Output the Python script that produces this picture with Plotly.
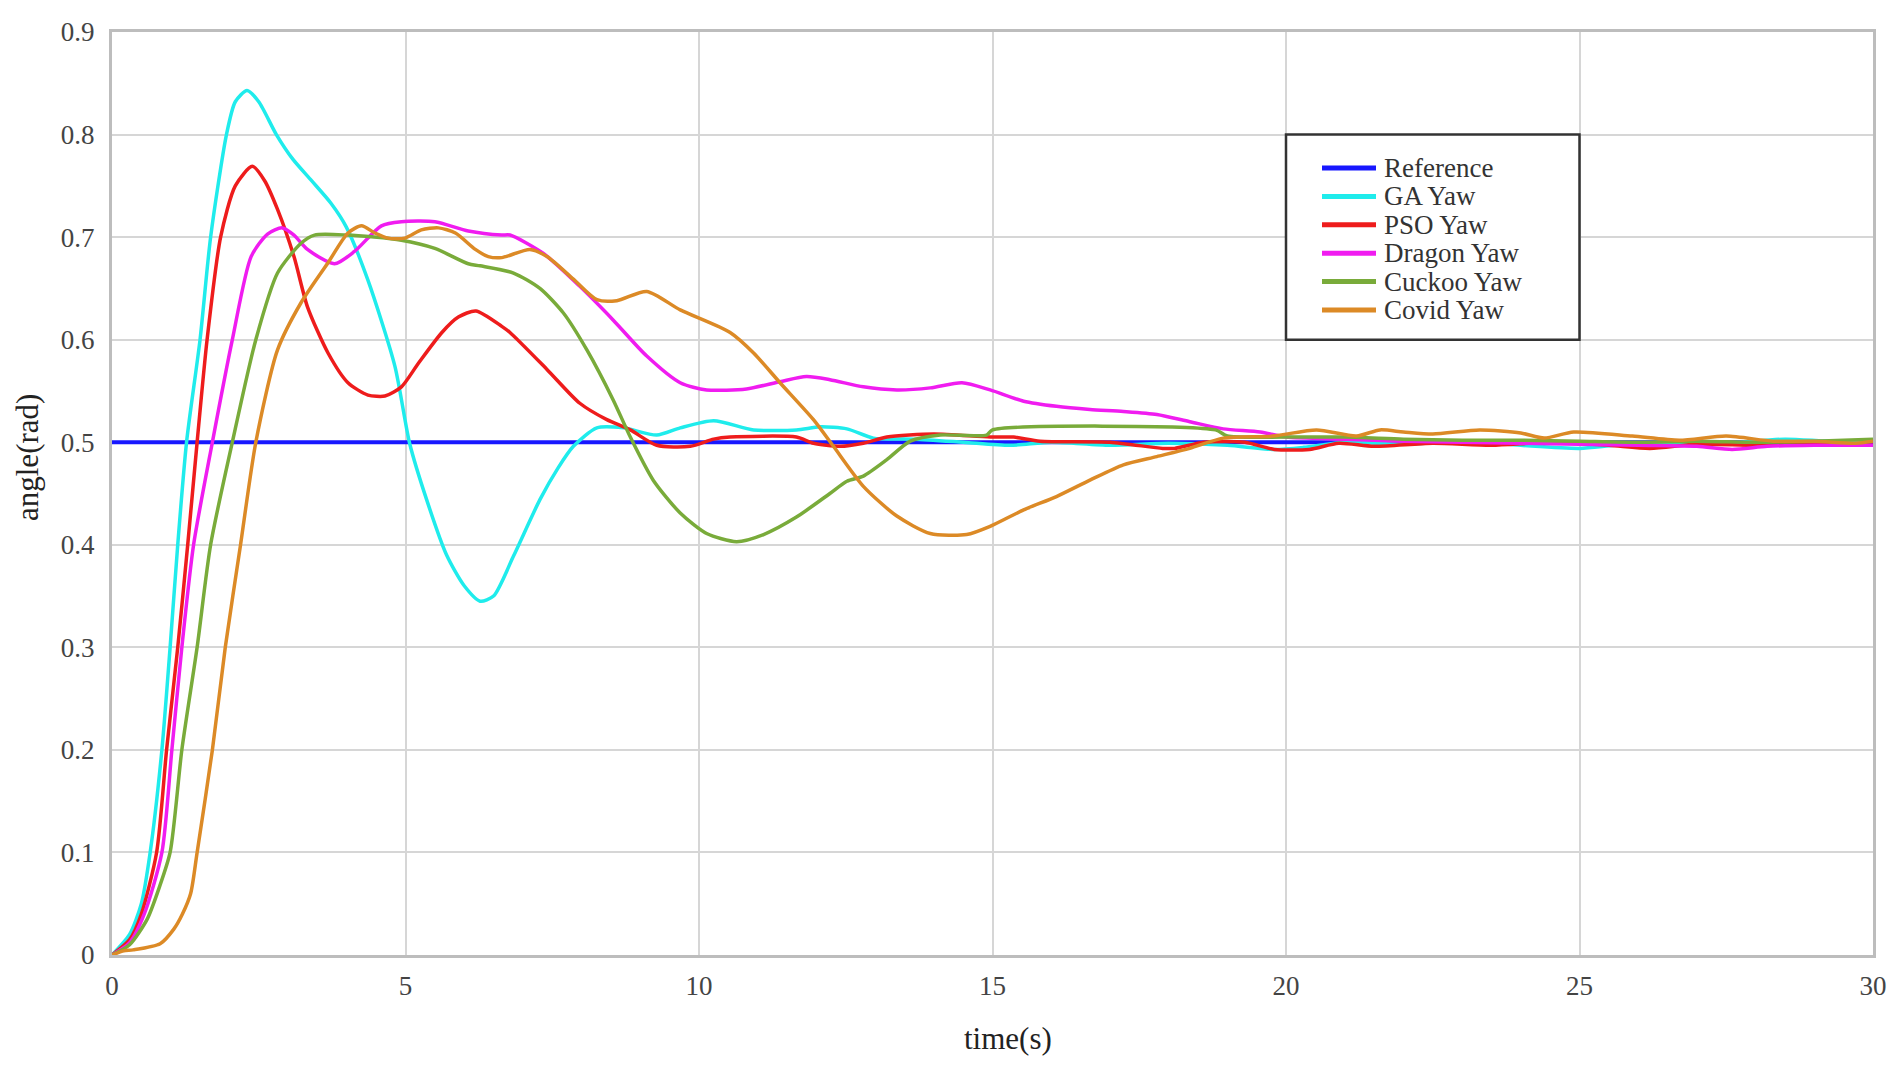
import plotly.graph_objects as go

# ---------------- data ----------------
ref_t = [0, 30]
ref_v = [0.5, 0.5]

ga_t = [0, 0.3, 0.5, 0.65, 0.85, 0.99, 1.12, 1.27, 1.5, 1.68, 1.95, 2.1, 2.3, 2.5, 2.8, 3.08, 3.4,
        3.73, 3.99, 4.36, 4.82, 5.07, 5.36, 5.7, 6.0, 6.27, 6.5, 6.84, 7.29, 7.6, 7.86, 8.26, 8.71,
        9.28, 9.68, 10.25, 10.93, 11.66, 12.06, 12.52, 12.97, 13.66, 14.5, 15.3, 16, 17, 18, 19,
        19.8, 20.3, 21, 22, 23, 24, 25, 25.6, 26.5, 27.5, 28.5, 29.3, 30]
ga_v = [0, 0.02, 0.05, 0.1, 0.2, 0.3, 0.4, 0.5, 0.6, 0.7, 0.8, 0.832, 0.843, 0.832, 0.8, 0.776, 0.755,
        0.733, 0.71, 0.658, 0.574, 0.499, 0.444, 0.39, 0.36, 0.345, 0.35, 0.389, 0.444, 0.475, 0.496,
        0.514, 0.514, 0.507, 0.514, 0.521, 0.512, 0.512, 0.515, 0.513, 0.504, 0.503, 0.5, 0.497, 0.5,
        0.497, 0.499, 0.497, 0.493, 0.495, 0.5, 0.498, 0.501, 0.497, 0.494, 0.497, 0.5, 0.499, 0.503,
        0.501, 0.502]

pso_t = [0, 0.3, 0.5, 0.76, 0.93, 1.12, 1.29, 1.45, 1.62, 1.85, 2.1, 2.39, 2.6, 2.82, 3.1, 3.33, 3.68,
         4.02, 4.36, 4.65, 4.93, 5.22, 5.62, 5.9, 6.2, 6.64, 6.78, 7.41, 7.97, 8.43, 8.83, 9.28, 9.85,
         10.25, 10.53, 11.66, 11.95, 12.4, 12.8, 13.2, 14.0, 14.96, 15.36, 15.81, 17.0, 17.9, 18.1,
         18.6, 19.3, 19.8, 20.4, 20.9, 21.5, 22.5, 23.5, 24.5, 25.5, 26.2, 27, 28, 29, 30]
pso_v = [0, 0.015, 0.04, 0.1, 0.2, 0.3, 0.4, 0.5, 0.6, 0.7, 0.75, 0.769, 0.755, 0.727, 0.681, 0.632,
         0.587, 0.558, 0.546, 0.545, 0.554, 0.577, 0.607, 0.622, 0.628, 0.613, 0.607, 0.571, 0.538,
         0.522, 0.512, 0.497, 0.496, 0.503, 0.505, 0.505, 0.499, 0.496, 0.499, 0.505, 0.508, 0.505,
         0.505, 0.501, 0.5, 0.494, 0.494, 0.5, 0.5, 0.493, 0.493, 0.499, 0.496, 0.499, 0.497, 0.5,
         0.497, 0.494, 0.498, 0.497, 0.498, 0.497]

dragon_t = [0, 0.3, 0.55, 0.85, 1.02, 1.19, 1.39, 1.71, 2.05, 2.37, 2.65, 2.9, 3.1, 3.33, 3.79, 4.13,
            4.59, 4.93, 5.5, 6.07, 6.64, 6.78, 7.35, 7.97, 8.54, 9.11, 9.68, 10.13, 10.81, 11.38,
            11.83, 12.23, 12.8, 13.37, 13.94, 14.48, 14.96, 15.53, 16.09, 16.66, 17.23, 17.8, 18.36,
            18.93, 19.56, 20, 21, 22, 23, 24, 25, 26, 27, 27.6, 28.2, 29, 30]
dragon_v = [0, 0.012, 0.04, 0.1, 0.2, 0.3, 0.4, 0.5, 0.6, 0.681, 0.703, 0.709, 0.702, 0.688, 0.674,
            0.686, 0.711, 0.715, 0.715, 0.706, 0.702, 0.702, 0.684, 0.652, 0.619, 0.584, 0.558, 0.551,
            0.552, 0.559, 0.564, 0.561, 0.554, 0.551, 0.553, 0.558, 0.551, 0.54, 0.535, 0.532, 0.53,
            0.527, 0.52, 0.513, 0.51, 0.505, 0.503, 0.501, 0.5, 0.499, 0.498, 0.497, 0.496, 0.493,
            0.496, 0.497, 0.497]

cuckoo_t = [0, 0.3, 0.6, 0.8, 0.99, 1.19, 1.45, 1.68, 2.05, 2.45, 2.82, 3.22, 3.45, 4.0, 4.93, 5.5,
            6.07, 6.27, 6.84, 7.29, 7.69, 8.09, 8.54, 8.83, 9.22, 9.68, 10.13, 10.64, 11.1, 11.66,
            12.23, 12.52, 12.8, 13.2, 13.6, 14.11, 14.9, 15.0, 18.8, 19.0, 20, 21, 22, 23, 24, 25,
            26, 27, 28, 29, 30]
cuckoo_v = [0, 0.01, 0.035, 0.065, 0.1, 0.2, 0.3, 0.4, 0.5, 0.6, 0.665, 0.694, 0.702, 0.702, 0.697,
            0.689, 0.674, 0.672, 0.665, 0.65, 0.626, 0.59, 0.541, 0.505, 0.463, 0.431, 0.411, 0.403,
            0.41, 0.427, 0.45, 0.462, 0.467, 0.483, 0.501, 0.507, 0.507, 0.512, 0.512, 0.506, 0.505,
            0.505, 0.503, 0.502, 0.502, 0.501, 0.5, 0.501, 0.5, 0.501, 0.503]

covid_t = [0, 0.2, 0.36, 0.82, 1.05, 1.2, 1.34, 1.45, 1.71, 1.93, 2.19, 2.45, 2.82, 3.22, 3.68, 4.02,
           4.25, 4.48, 4.7, 4.99, 5.27, 5.56, 5.85, 6.19, 6.41, 6.64, 7.12, 7.41, 7.86, 8.26, 8.6,
           9.11, 9.68, 10.53, 10.93, 11.38, 11.95, 12.29, 12.8, 13.37, 13.94, 14.56, 14.96, 15.53,
           16.09, 16.66, 17.23, 17.8, 18.36, 18.93, 19.78, 20.52, 21.2, 21.6, 22.0, 22.5, 23.3, 24.0,
           24.4, 24.9, 25.9, 26.7, 27.5, 28.3, 29.0, 29.7, 30]
covid_v = [0, 0.004, 0.005, 0.011, 0.025, 0.04, 0.06, 0.1, 0.2, 0.3, 0.4, 0.5, 0.59, 0.636, 0.675,
           0.704, 0.711, 0.704, 0.699, 0.699, 0.707, 0.709, 0.704, 0.688, 0.681, 0.68, 0.688, 0.681,
           0.659, 0.639, 0.638, 0.647, 0.629, 0.607, 0.587, 0.558, 0.522, 0.496, 0.457, 0.428, 0.411,
           0.41, 0.418, 0.434, 0.447, 0.463, 0.478, 0.486, 0.494, 0.504, 0.506, 0.512, 0.506, 0.512,
           0.51, 0.508, 0.512, 0.509, 0.504, 0.51, 0.506, 0.502, 0.506, 0.501, 0.501, 0.499, 0.501]

series_names = ["Reference", "GA Yaw", "PSO Yaw", "Dragon Yaw", "Cuckoo Yaw", "Covid Yaw"]
series_colors = ["#1717ff", "#1fecec", "#ee1c1c", "#f01cf0", "#79ab3a", "#dc8a26"]

x_ticks = [0, 5, 10, 15, 20, 25, 30]
y_ticks = [0, 0.1, 0.2, 0.3, 0.4, 0.5, 0.6, 0.7, 0.8, 0.9]
y_ticktext = ["0", "0.1", "0.2", "0.3", "0.4", "0.5", "0.6", "0.7", "0.8", "0.9"]

# ---------------- figure ----------------
W, H = 1899, 1070
ML, MR, MT, MB = 112, 26, 32, 115
PW, PH = W - ML - MR, H - MT - MB
XR, YR = [0, 30], [0, 0.9]

def px_to_x(px):
    return XR[0] + (px - ML) / PW * (XR[1] - XR[0])

def py_to_y(py):
    return YR[0] + (H - MB - py) / PH * (YR[1] - YR[0])

xs = [ref_t, ga_t, pso_t, dragon_t, cuckoo_t, covid_t]
ys = [ref_v, ga_v, pso_v, dragon_v, cuckoo_v, covid_v]
widths = [4, 3.5, 3.5, 3.5, 3.5, 3.5]

fig = go.Figure()
for name, col, xx, yy, w in zip(series_names, series_colors, xs, ys, widths):
    fig.add_trace(go.Scatter(x=xx, y=yy, mode="lines", name=name,
                             line=dict(color=col, width=w, shape="spline", smoothing=0.7),
                             showlegend=False))

serif = "Liberation Serif, Times New Roman, serif"

fig.update_layout(
    width=W, height=H,
    margin=dict(l=ML, r=MR, t=MT, b=MB, autoexpand=False),
    paper_bgcolor="white", plot_bgcolor="white",
    font=dict(family=serif, color="#444"),
    xaxis=dict(range=XR, tickvals=x_ticks, ticktext=[str(v) for v in x_ticks],
               showgrid=True, gridcolor="#d6d6d6", gridwidth=2,
               showline=True, linecolor="#bdbdbd", linewidth=3, mirror=True,
               zeroline=False, ticks="", tickfont=dict(size=27, color="#444"),
               ticklabelstandoff=5),
    yaxis=dict(range=YR, tickvals=y_ticks, ticktext=y_ticktext,
               showgrid=True, gridcolor="#d6d6d6", gridwidth=2,
               showline=True, linecolor="#bdbdbd", linewidth=3, mirror=True,
               zeroline=False, ticks="", tickfont=dict(size=27, color="#444"),
               ticklabelstandoff=9),
)

# axis titles
fig.add_annotation(text="time(s)", xref="paper", yref="paper",
                   x=(1008 - ML) / PW, y=-(1038 - (H - MB)) / PH,
                   showarrow=False, xanchor="center", yanchor="middle",
                   font=dict(family=serif, size=31, color="#222"))
fig.add_annotation(text="angle(rad)", xref="paper", yref="paper",
                   x=(27 - ML) / PW, y=(H - MB - 458) / PH, textangle=-90,
                   showarrow=False, xanchor="center", yanchor="middle",
                   font=dict(family=serif, size=31, color="#222"))

# legend box (drawn on the grid cell it occupies)
fig.add_shape(type="rect", xref="x", yref="y", x0=20, x1=25, y0=0.6, y1=0.8,
              line=dict(color="#333", width=2.5), fillcolor="white", layer="above")
row_py = [168, 196.4, 224.8, 253.2, 281.6, 310]
for name, col, py in zip(series_names, series_colors, row_py):
    yv = py_to_y(py)
    fig.add_shape(type="line", xref="x", yref="y", x0=px_to_x(1322), x1=px_to_x(1376),
                  y0=yv, y1=yv, line=dict(color=col, width=5), layer="above")
    fig.add_annotation(text=name, xref="x", yref="y", x=px_to_x(1383), y=yv,
                       showarrow=False, xanchor="left", yanchor="middle", borderpad=0,
                       font=dict(family=serif, size=27, color="#333"))

fig.write_html("out.html", config={"displayModeBar": False},
               post_script="document.body.style.margin='0';")
